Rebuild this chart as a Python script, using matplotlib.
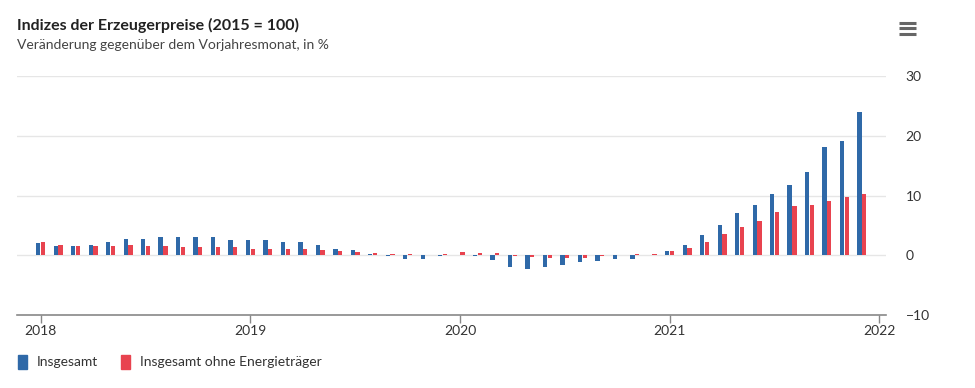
import matplotlib
matplotlib.use("Agg")
import matplotlib.pyplot as plt
from matplotlib.lines import Line2D
from matplotlib.patches import Rectangle
import numpy as np

plt.rcParams['font.family'] = ['Lato', 'DejaVu Sans']

# Monate Jan 2018 bis Dez 2021
jahre = [2018, 2019, 2020, 2021]
monate = [(j, m) for j in jahre for m in range(1, 13)]

# Veraenderung gegenueber Vorjahresmonat in %
insgesamt = [
    2.0, 1.6, 1.6, 1.8, 2.3, 2.8, 2.8, 3.0, 3.1, 3.1, 3.1, 2.6,
    2.5, 2.5, 2.3, 2.3, 1.8, 1.1, 0.9, 0.2, -0.1, -0.7, -0.7, -0.1,
    0.1, -0.1, -0.8, -1.9, -2.3, -1.9, -1.7, -1.2, -1.0, -0.7, -0.6, 0.1,
    0.7, 1.8, 3.4, 5.0, 7.1, 8.4, 10.3, 11.8, 14.0, 18.2, 19.1, 24.0,
]
ohne_energie = [
    2.2, 1.8, 1.6, 1.6, 1.6, 1.8, 1.6, 1.6, 1.4, 1.4, 1.4, 1.4,
    1.1, 1.1, 1.1, 1.1, 0.9, 0.7, 0.6, 0.4, 0.3, 0.2, 0.1, 0.2,
    0.6, 0.4, 0.4, -0.1, -0.3, -0.4, -0.4, -0.4, -0.1, 0.0, 0.2, 0.3,
    0.7, 1.3, 2.3, 3.5, 4.8, 5.8, 7.2, 8.2, 8.4, 9.1, 9.8, 10.3,
]
serien = ["Insgesamt", "Insgesamt ohne Energieträger"]
farben = ["#2f69a8", "#e8434f"]
y_ticks = [-10, 0, 10, 20, 30]
x_ticks = [2018, 2019, 2020, 2021, 2022]

x = np.array([j + (m - 1) / 12 for j, m in monate])
breite = 0.0205

fig = plt.figure(figsize=(9.75, 3.88), dpi=100)
ax = fig.add_axes([0.017, 0.188, 0.892, 0.616])

ax.bar(x - breite / 2 - 0.001, insgesamt, width=breite, color=farben[0], zorder=3)
ax.bar(x + breite / 2 + 0.001, ohne_energie, width=breite, color=farben[1], zorder=3)

ax.set_xlim(2018 - 0.115, 2022 + 0.033)
ax.set_ylim(-10, 30)
ax.set_yticks(y_ticks)
ax.set_xticks(x_ticks)
ax.yaxis.tick_right()
for g in [0, 10, 20, 30]:
    ax.axhline(g, color="#e6e6e6", lw=1, zorder=1)

for s in ["left", "top", "right"]:
    ax.spines[s].set_visible(False)
ax.spines["bottom"].set_color("#888888")
ax.spines["bottom"].set_linewidth(1.2)
ax.tick_params(axis="y", length=0, pad=14, labelsize=10, labelcolor="#333333")
ax.tick_params(axis="x", length=6, width=1, color="#888888", pad=1,
               labelsize=10, labelcolor="#333333")

# Titel
fig.text(0.017, 0.935, "Indizes der Erzeugerpreise (2015 = 100)", fontsize=11.5,
         fontweight="bold", color="#222222", va="center")
fig.text(0.017, 0.883, "Veränderung gegenüber dem Vorjahresmonat, in %", fontsize=10,
         color="#444444", va="center")

# Menue-Symbol
for yy in [0.942, 0.927, 0.912]:
    fig.add_artist(Line2D([0.922, 0.939], [yy, yy], color="#666666", lw=2.2,
                          solid_capstyle="butt"))

# Legende
lx = [0.018, 0.124]
tx = [0.038, 0.144]
for i in range(2):
    fig.add_artist(Rectangle((lx[i], 0.05), 0.0095, 0.034, color=farben[i],
                             transform=fig.transFigure))
    fig.text(tx[i], 0.067, serien[i], fontsize=10, color="#333333", va="center")

fig.savefig("out.png", dpi=100, facecolor="white")
